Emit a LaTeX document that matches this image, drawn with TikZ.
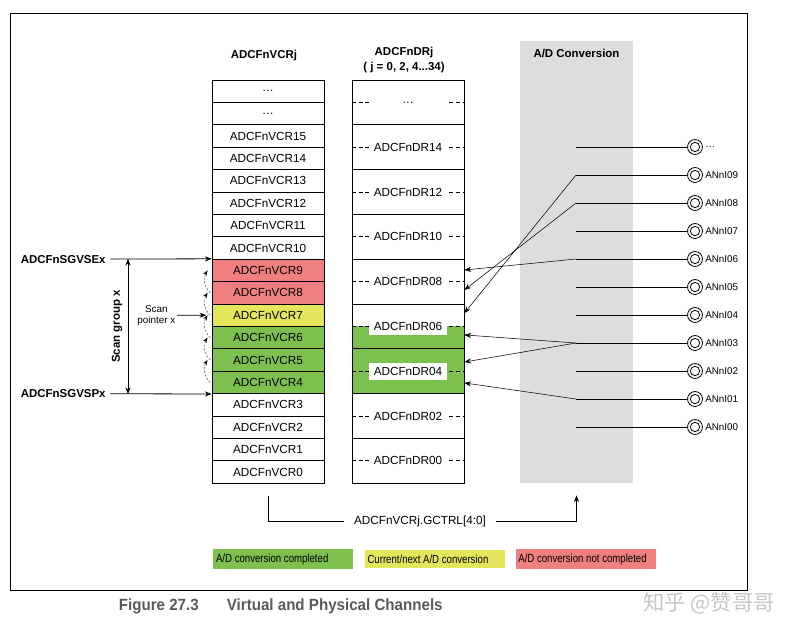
\documentclass[tikz,border=0pt]{standalone}
\usepackage{fontspec}
\setmainfont{Liberation Sans}
\newfontfamily\narrowfont[FakeStretch=0.82]{Liberation Sans}
\newfontfamily\capfont[FakeStretch=0.93]{Liberation Sans}
\newfontfamily\cjkfont{Noto Sans CJK SC}
\usetikzlibrary{positioning}
\usetikzlibrary{arrows.meta}
\definecolor{adgreen}{RGB}{126,192,78}
\definecolor{adyellow}{RGB}{228,230,92}
\definecolor{adred}{RGB}{240,128,128}
\definecolor{adgray}{RGB}{220,221,222}
\definecolor{capgray}{RGB}{90,90,90}
\newcommand{\legtext}[1]{\makebox[101pt][l]{#1}}
\tikzset{
  boxfont/.style={font=\fontsize{8.8}{10}\selectfont},
  hdr/.style={font=\bfseries\fontsize{8.6}{11.2}\selectfont},
  vcrbox/.style={draw, boxfont, minimum width=84pt, minimum height=16.8pt, inner sep=0pt},
  drbox/.style={draw, minimum width=84pt, minimum height=33.6pt, inner sep=0pt},
  drlabel/.style={fill=white, boxfont, minimum width=59pt, minimum height=12.5pt, inner sep=0pt},
  drdash/.style={dash pattern=on 3pt off 2.2pt},
  chan/.style={circle, draw, minimum size=11.2pt, inner sep=0pt,
    path picture={\draw (path picture bounding box.center) circle (3.5pt);}},
  chanlabel/.style={font=\fontsize{7.4}{8}\selectfont, inner sep=1.5pt},
  scanstep/.style={draw=gray, dash pattern=on 1.6pt off 1.2pt, -{Stealth[length=4pt,width=3pt,black]}},
  legbox/.style={font=\narrowfont\fontsize{8.8}{10}\selectfont, minimum height=13.5pt,
    minimum width=105pt, inner xsep=2pt},
  capt/.style={font=\capfont\bfseries\fontsize{12.2}{14}\selectfont, text=capgray},
}
\begin{document}
\begin{tikzpicture}[x=0.75pt, y=-0.75pt, line width=0.6pt,
    >={Stealth[length=5pt,width=3.8pt]}]
  \useasboundingbox (0,0) rectangle (799,625);
  \draw (10,13) rectangle (747,590);

  % bande de conversion
  \node[fill=adgray, minimum width=84.75pt, minimum height=331.5pt, inner sep=0pt] (band) at (576.5,262) {};
  \node[hdr, below=2.5pt of band.north] (bandhdr) {A/D Conversion};

  % registres virtuels
  \node[hdr] (vcrhdr) at (264,56) {ADCFnVCRj};
  \foreach \nm/\txt/\col [count=\i from 0] in {d1/\dots/white, d2/\dots/white,
      15/ADCFnVCR15/white, 14/ADCFnVCR14/white, 13/ADCFnVCR13/white, 12/ADCFnVCR12/white,
      11/ADCFnVCR11/white, 10/ADCFnVCR10/white, 9/ADCFnVCR9/adred, 8/ADCFnVCR8/adred,
      7/ADCFnVCR7/adyellow, 6/ADCFnVCR6/adgreen, 5/ADCFnVCR5/adgreen, 4/ADCFnVCR4/adgreen,
      3/ADCFnVCR3/white, 2/ADCFnVCR2/white, 1/ADCFnVCR1/white, 0/ADCFnVCR0/white} {
    \node[vcrbox, fill=\col] (vcr\nm) at (268, 91.2+22.4*\i) {\txt};
  }

  % registres de donnees
  \node[hdr, align=center] (drhdr) at (404,60.5) {ADCFnDRj\\( j = 0, 2, 4...34)};
  \fill[adgreen] (352,326.4) rectangle (464,393.6);
  \foreach \nm/\txt [count=\i from 0] in {d/\dots, 14/ADCFnDR14, 12/ADCFnDR12, 10/ADCFnDR10,
      08/ADCFnDR08, 06/ADCFnDR06, 04/ADCFnDR04, 02/ADCFnDR02, 00/ADCFnDR00} {
    \node[drbox] (dr\nm) at (408, 102.4+44.8*\i) {};
    \draw[drdash] (dr\nm.west) -- (dr\nm.east);
    \node[drlabel] (dr\nm t) at (dr\nm) {\txt};
  }

  % canaux physiques
  \foreach \nm/\txt [count=\i from 0] in {d/\dots, 09/ANnI09, 08/ANnI08, 07/ANnI07, 06/ANnI06,
      05/ANnI05, 04/ANnI04, 03/ANnI03, 02/ANnI02, 01/ANnI01, 00/ANnI00} {
    \node[chan, label={[chanlabel]right:\txt}] (ch\nm) at (695, 147+28*\i) {};
    \coordinate (k\nm) at (576, 147+28*\i);
    \draw (ch\nm) -- (k\nm);
  }
  \draw[->, line width=0.4pt] (k09) -- ([yshift=10pt]dr06.east);
  \draw[->, line width=0.4pt] (k08) -- ([yshift=-6.3pt]dr08.east);
  \draw[->, line width=0.4pt] (k06) -- ([yshift=8.7pt]dr08.east);
  \draw[->, line width=0.4pt] (k03) -- ([yshift=-6.4pt]dr06.east);
  \draw[->, line width=0.4pt] (k03) -- ([yshift=6.9pt]dr04.east);
  \draw[->, line width=0.4pt] (k01) -- ([yshift=-8.8pt]dr04.east);

  % groupe de scan
  \node[hdr, anchor=west] (sgvse) at (16,259.2) {ADCFnSGVSEx};
  \node[hdr, anchor=west] (sgvsp) at (16,393.6) {ADCFnSGVSPx};
  \draw[->] (sgvse) -- (vcr9.north west);
  \draw[->] (sgvsp) -- (vcr4.south west);
  \coordinate (gx) at (128,0);
  \draw[<->] (gx |- vcr9.north west) -- (gx |- vcr4.south west);
  \node[hdr, rotate=90] (sgrp) at (117,326.4) {Scan group x};
  \node[font=\fontsize{7.4}{8.3}\selectfont, align=center, anchor=east, inner sep=1pt] (scanp) at (177,315.2) {Scan\\pointer x};
  \draw[->] (scanp) -- ([xshift=-4pt]vcr7.west);
  \foreach \a/\b in {4/5, 5/6, 6/7, 7/8, 8/9} {
    \draw[scanstep] ([xshift=-1pt]vcr\a.west) to[bend left=40] ([xshift=-3pt]vcr\b.west);
  }

  % selection du canal
  \node[boxfont, inner xsep=7.5pt] (gctrl) at (420,521) {ADCFnVCRj.GCTRL[4:0]};
  \draw ([yshift=-9pt]vcr0.south) |- (gctrl);
  \draw[->] (gctrl) -| ([yshift=-9pt]band.south);

  % legende
  \node[legbox, fill=adgreen, anchor=west] (leggreen) at (213,559) {\legtext{A/D conversion completed}};
  \node[legbox, fill=adyellow, right=8pt of leggreen] (legyellow) {\legtext{Current/next A/D conversion}};
  \node[legbox, fill=adred, right=7.5pt of legyellow] (legred) {\legtext{A/D conversion not completed}};

  % titre
  \node[capt, anchor=west] (fignum) at (114,606) {Figure 27.3};
  \node[capt, anchor=west] (figtitle) at (222,606) {Virtual and Physical Channels};
  \node[font=\cjkfont\fontsize{16}{16}\selectfont, text=gray!45] (wmark) at (709,603) {知乎 @赞哥哥};
\end{tikzpicture}
\end{document}
